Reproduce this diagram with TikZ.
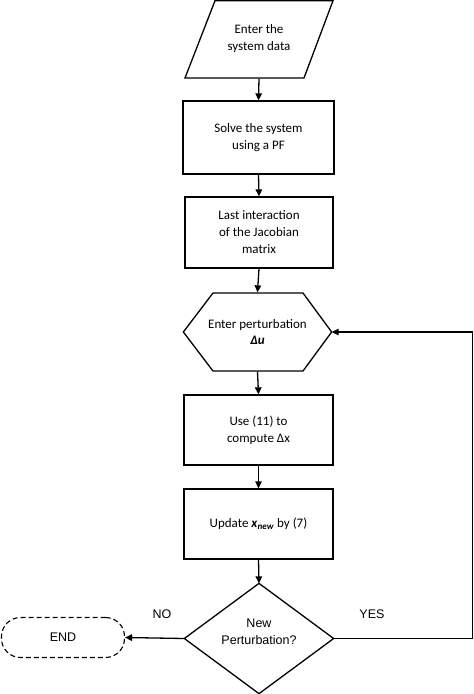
\documentclass[tikz,border=0pt]{standalone}
\usepackage{fontspec}
\setmainfont{Carlito}
\newfontfamily\arialf{Liberation Sans}
\usetikzlibrary{arrows.meta}
\begin{document}
\begin{tikzpicture}[x=1pt,y=-1pt,
  line width=1.3pt,
  box/.style={draw,rectangle,align=center,inner sep=0pt,font=\fontsize{13}{17}\selectfont},
  ghost/.style={rectangle,inner sep=0pt,align=center,font=\fontsize{13}{17}\selectfont},
  arr/.style={-{Triangle[length=7pt,width=6.5pt]}},
  lab/.style={font=\arialf\fontsize{12.5}{15}\selectfont}]
\useasboundingbox (0,0) rectangle (474,694);
% input parallelogram
\node[ghost,minimum width=148pt,minimum height=78pt] (data) at (259,39) {Enter the\\system data};
\draw (215,0.7) -- (333,0.7) -- (304,78) -- (185,78) -- cycle;
% boxes
\node[box,minimum width=151pt,minimum height=73pt] (solve) at (258.5,137.5) {Solve the system\\using a PF};
\node[box,minimum width=148pt,minimum height=71pt] (jac) at (259,232.5) {Last interaction\\of the Jacobian\\matrix};
% hexagon
\node[ghost,minimum width=147pt,minimum height=78pt] (pert) at (257.5,332) {Enter perturbation\\[-1pt]\textbf{\textit{Δu}}};
\draw (pert.west) -- (213,293) -- (303,293) -- (pert.east) -- (303,371) -- (213,371) -- cycle;
\node[box,minimum width=149pt,minimum height=70pt] (use) at (258.5,430) {Use (11) to\\compute Δx};
\node[box,minimum width=149pt,minimum height=70pt] (upd) at (258.5,524) {Update \textbf{\textit{x}}\textsubscript{\textbf{\textit{new}}} by (7)};
% decision diamond
\node[ghost,minimum width=148pt,minimum height=109pt] (dec) at (259,638.5) {};
\draw (dec.north) -- (dec.east) -- (dec.south) -- (dec.west) -- cycle;
\node[align=center,inner sep=0pt,font=\arialf\fontsize{12.5}{17}\selectfont] (dectext) at (259,632) {New\\Perturbation?};
% end terminal
\node[draw,line width=1.1pt,dash pattern=on 5pt off 3pt,rounded corners=19pt,minimum width=123pt,minimum height=40pt,inner sep=0pt,lab] (end) at (63,637.5) {END};
% connectors
\draw[arr] (data.south) -- (solve.north);
\draw[arr] (solve.south) -- (jac.north);
\draw[arr] (jac.south) -- (pert.north);
\draw[arr] (pert.south) -- (use.north);
\draw[arr] (use.south) -- (upd.north);
\draw[arr] (upd.south) -- (dec.north);
\draw[arr] (dec.west) -- (end.east);
\coordinate (loop) at (472.5,638.5);
\draw[arr] (dec.east) -- (loop) |- (pert.east);
\node[lab] (no) at (162,614) {NO};
\node[lab] (yes) at (372,614) {YES};
\end{tikzpicture}
\end{document}
